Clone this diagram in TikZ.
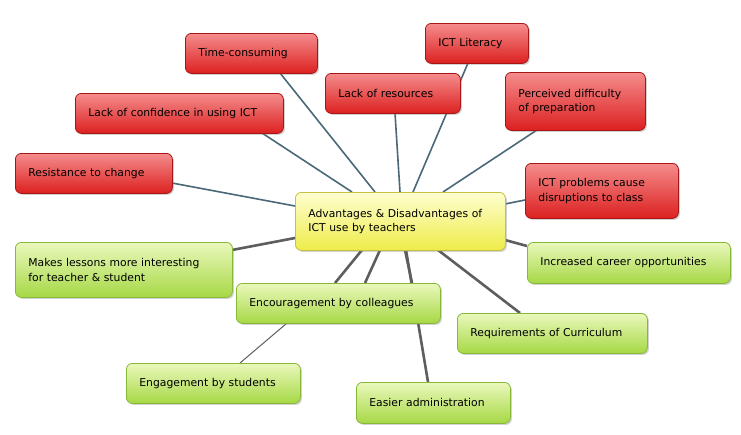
\documentclass[tikz,border=0pt]{standalone}
\usepackage{fontspec}
\setmainfont{DejaVu Sans}
\usetikzlibrary{shadows}
\definecolor{redtop}{HTML}{F58C8C}
\definecolor{redbot}{HTML}{DC2020}
\definecolor{redbd}{HTML}{A81515}
\definecolor{grtop}{HTML}{EAF8BC}
\definecolor{grbot}{HTML}{A6D845}
\definecolor{grbd}{HTML}{88B838}
\definecolor{yetop}{HTML}{FEFED0}
\definecolor{yebot}{HTML}{EEEC4A}
\definecolor{yebd}{HTML}{C8C040}
\definecolor{bluel}{HTML}{4A6878}
\definecolor{grayl}{HTML}{5E5E5E}
\tikzset{
 x=1pt,y=-1pt,
 box/.style={rounded corners=6pt, draw, line width=0.8pt, font=\fontsize{10.8}{14.5}\selectfont, align=left, inner xsep=13pt, inner ysep=0pt, anchor=north west,
   drop shadow={opacity=0.35, shadow xshift=1.5pt, shadow yshift=-1.5pt}},
 redbox/.style={box, draw=redbd, top color=redtop, bottom color=redbot},
 grbox/.style={box, draw=grbd, top color=grtop, bottom color=grbot},
 yebox/.style={box, draw=yebd, top color=yetop, bottom color=yebot},
 rl/.style={draw=bluel, line width=1.6pt},
 gl/.style={draw=grayl, line width=2.6pt},
 gthin/.style={draw=grayl, line width=1pt},
}
\newcommand\bx[7]{\node[#1, text width=#4-26pt, minimum height=#5pt] (#2) at (#3) {#6#7};}
\begin{document}
\begin{tikzpicture}
\useasboundingbox (0,0) rectangle (741,434);
% connectors
\draw[rl] (280,73) -- (375,192);
\draw[rl] (468,63) -- (413,192);
\draw[rl] (395,113) -- (400,192);
\draw[rl] (540,128) -- (443,192);
\draw[rl] (262,133) -- (352,192);
\draw[rl] (172,183) -- (295,206);
\draw[rl] (525,200) -- (505,204);
\draw[gl] (232,250) -- (295,238);
\draw[gl] (527,246) -- (505,240);
\draw[gl] (335,283) -- (362,250);
\draw[gl] (365,283) -- (380,250);
\draw[gl] (412,283) -- (405,250);
\draw[gthin] (240,363) -- (320,295);
\draw[gl] (428,382) -- (406,250);
\draw[gl] (520,313) -- (438,250);
% nodes
\bx{redbox}{tc}{185,33}{132}{40}{}{Time-consuming}
\bx{redbox}{lit}{425,23}{103}{40}{}{ICT Literacy}
\bx{redbox}{res}{325,73}{135}{40}{}{Lack of resources}
\bx{redbox}{per}{505,72}{140}{58}{}{Perceived difficulty\\of preparation}
\bx{redbox}{conf}{75,93}{208}{40}{}{Lack of confidence in using ICT}
\bx{redbox}{rch}{15,153}{157}{40}{}{Resistance to change}
\bx{redbox}{prob}{525,163}{153}{55}{}{ICT problems cause\\disruptions to class}
\bx{yebox}{ctr}{295,192}{210}{58}{}{Advantages \& Disadvantages of\\ICT use by teachers}
\bx{grbox}{mk}{15,242}{217}{55}{}{Makes lessons more interesting\\for teacher \& student}
\bx{grbox}{car}{527,242}{203}{41}{}{Increased career opportunities}
\bx{grbox}{enc}{236,283}{204}{40}{}{Encouragement by colleagues}
\bx{grbox}{req}{457,313}{190}{40}{}{Requirements of Curriculum}
\bx{grbox}{eng}{126,363}{174}{40}{}{Engagement by students}
\bx{grbox}{adm}{356,382}{154}{41}{}{Easier administration}
\end{tikzpicture}
\end{document}
